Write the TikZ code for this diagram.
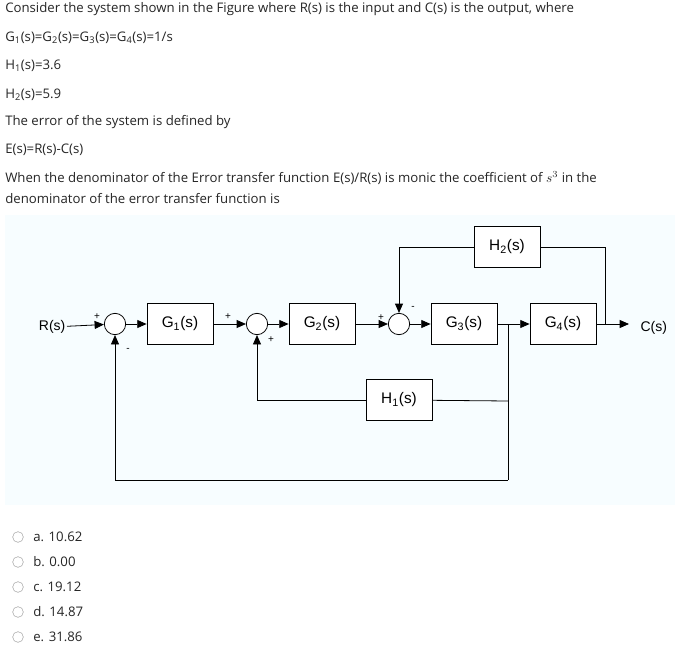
\documentclass[tikz,border=0pt]{standalone}
\usepackage{fontspec}
\setmainfont{Open Sans}
\newfontfamily\arialf{Liberation Sans}
\usetikzlibrary{arrows.meta}
\begin{document}
\begin{tikzpicture}[x=0.75pt,y=-0.75pt,
  txt/.style={anchor=west,inner sep=0pt,font=\fontsize{9.9}{11}\selectfont,text=black!85},
  blk/.style={draw,semithick,minimum width=49.5pt,minimum height=31pt,inner sep=0pt,font=\arialf\fontsize{11.5}{13}\selectfont,fill=white},
  sumc/.style={draw,semithick,circle,minimum size=16pt,inner sep=0pt,fill=white},
  lab/.style={font=\arialf\fontsize{10.5}{12}\selectfont,inner sep=1pt},
  sg/.style={font=\arialf\fontsize{7.5}{8}\selectfont,inner sep=0pt},
  ar/.style={-{Triangle[length=7pt,width=6pt]},semithick},
  ln/.style={semithick},
  rad/.style={draw=gray!70,circle,minimum size=8pt,inner sep=0pt}]
\useasboundingbox (0,0) rectangle (693,653);
\fill[white] (0,0) rectangle (693,653);
\fill[cyan!3!white] (5,215) rectangle (675,505);
\node[txt] (t1) at (5,9) {Consider the system shown in the Figure where R(s) is the input and C(s) is the output, where};
\node[txt] (t2) at (5,38) {G\textsubscript{1}(s)=G\textsubscript{2}(s)=G\textsubscript{3}(s)=G\textsubscript{4}(s)=1/s};
\node[txt] (t3) at (5,66) {H\textsubscript{1}(s)=3.6};
\node[txt] (t4) at (5,95) {H\textsubscript{2}(s)=5.9};
\node[txt] (t5) at (5,122) {The error of the system is defined by};
\node[txt] (t6) at (5,150) {E(s)=R(s)-C(s)};
\node[txt] (t7) at (5,178) {When the denominator of the Error transfer function E(s)/R(s) is monic the coefficient of $s^3$ in the};
\node[txt] (t8) at (5,199) {denominator of the error transfer function is};

\node[sumc] (s1) at (115,324) {};
\node[sumc] (s2) at (257,324) {};
\node[sumc] (s3) at (399,324) {};
\node[blk] (g1) at (180,324) {G\textsubscript{1}(s)};
\node[blk] (g2) at (322,324) {G\textsubscript{2}(s)};
\node[blk] (g3) at (464,324) {G\textsubscript{3}(s)};
\node[blk] (g4) at (563,324) {G\textsubscript{4}(s)};
\node[blk] (h2) at (507,247) {H\textsubscript{2}(s)};
\node[blk] (h1) at (399,400) {H\textsubscript{1}(s)};
\node[lab,anchor=east] (r) at (67,327) {R(s)};
\node[lab,anchor=west] (c) at (639,328) {C(s)};
\coordinate (b1) at (508,324);
\coordinate (b2) at (605,324);
\coordinate (b3) at (508,401);
\coordinate (b4) at (508,480);
\coordinate (ce) at (629,324);

\draw[ar] (r) -- (s1);
\draw[ar] (s1) -- (g1);
\draw[ar] (g1) -- (s2);
\draw[ar] (s2) -- (g2);
\draw[ar] (g2) -- (s3);
\draw[ar] (s3) -- (g3);
\draw[ar] (g3) -- (g4);
\draw[ar] (g4) -- (ce);
\draw[ln] (b2) |- (h2);
\draw[ar] (h2) -| (s3);
\draw[ln] (b1) -- (b4);
\draw[ln] (b3) -- (h1);
\draw[ar] (h1) -| (s2);
\draw[ar] (b4) -| (s1);

\node[sg] (p1) at (97,317) {+};
\node[sg] (m1) at (128,350) {-};
\node[sg] (p2) at (228,317) {+};
\node[sg] (p3) at (271,340) {+};
\node[sg] (p4) at (381,318) {+};
\node[sg] (m3) at (413,308) {-};

\foreach \y/\t [count=\i] in {537/a. 10.62,562/b. 0.00,587/c. 19.12,612/d. 14.87,637/e. 31.86}{
  \node[rad] (o\i) at (18,\y) {};
  \node[txt] (a\i) at (33,\y) {\t};
}
\end{tikzpicture}
\end{document}
